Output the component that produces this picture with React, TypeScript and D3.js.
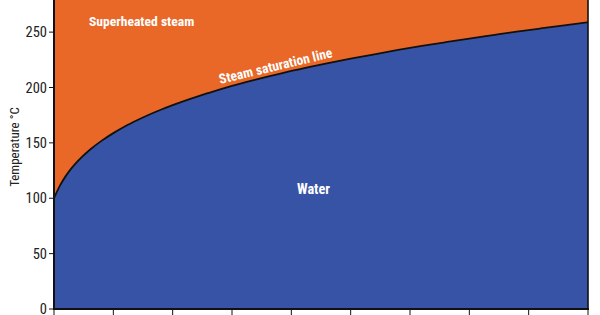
import React from "react";
import * as d3 from "d3";

// Saturation curve: gauge pressure (bar g) vs saturation temperature (°C)
const pressureBarG = [0, 0.5, 1, 1.5, 2, 3, 4, 5, 6, 7, 8, 9, 10, 11, 12, 13, 14, 15, 16, 17, 18, 19, 20, 21, 23, 25, 27, 29, 31, 33, 35, 37, 39, 41, 43, 45];
const satTempC = [100, 111.4, 120.2, 127.4, 133.5, 143.6, 151.8, 158.8, 165.0, 170.4, 175.4, 179.9, 184.1, 188.0, 191.6, 195.0, 198.3, 201.4, 204.3, 207.1, 209.8, 212.4, 214.9, 217.2, 221.8, 226.0, 230.0, 233.9, 237.5, 240.9, 244.2, 247.3, 250.4, 253.3, 256.1, 258.8];
const xTicks = [0, 5, 10, 15, 20, 25, 30, 35, 40, 45];
const yTicks = [0, 50, 100, 150, 200, 250];
const labels = { steam: "Superheated steam", water: "Water", line: "Steam saturation line", yTitle: "Temperature °C" };

const W = 600, H = 315;
const left = 54, right = 588, bottom = 309;
const ORANGE = "#E96727";
const BLUE = "#3753A5";
const FONT = "'Liberation Sans Narrow', 'Arial Narrow', 'Roboto Condensed', 'Liberation Sans', sans-serif";

export default function App() {
  const x = d3.scaleLinear().domain([0, 45]).range([left, right]);
  const y = d3.scaleLinear().domain([0, 279]).range([bottom, 0]);
  const pts: [number, number][] = pressureBarG.map((p, i) => [p, satTempC[i]]);
  const line = d3.line<[number, number]>().x(d => x(d[0])).y(d => y(d[1])).curve(d3.curveMonotoneX);
  const area = d3.area<[number, number]>().x(d => x(d[0])).y0(bottom).y1(d => y(d[1])).curve(d3.curveMonotoneX);

  const interp = (p: number) => d3.scaleLinear().domain(pressureBarG).range(satTempC)(p);
  const lp0 = 14.1, lp1 = 23.7;
  const lx0 = x(lp0), ly0 = y(interp(lp0)), lx1 = x(lp1), ly1 = y(interp(lp1));
  const ang = Math.atan2(ly1 - ly0, lx1 - lx0) * 180 / Math.PI;

  return (
    <div style={{ position: "absolute", left: 0, top: 0 }}>
      <svg width={W} height={H} style={{ display: "block" }}>
        <rect x={left} y={0} width={right - left} height={bottom} fill={ORANGE} />
        <path d={area(pts) || ""} fill={BLUE} />
        <path d={line(pts) || ""} fill="none" stroke="#111" strokeWidth={1.8} />
        <line x1={left} x2={left} y1={0} y2={bottom + 1} stroke="#111" strokeWidth={2} />
        <line x1={right} x2={right} y1={0} y2={bottom + 1} stroke="#111" strokeWidth={1.6} />
        <line x1={left - 1} x2={right + 1} y1={bottom} y2={bottom} stroke="#111" strokeWidth={2} />
        {yTicks.map(t => (
          <g key={"y" + t}>
            <line x1={left - 5} x2={left} y1={y(t)} y2={y(t)} stroke="#111" strokeWidth={1} />
            <text x={left - 7} y={y(t)} dy="0.36em" textAnchor="end" fontFamily={FONT} fontSize={14.5} fill="#222">{t}</text>
          </g>
        ))}
        {xTicks.map(t => (
          <line key={"x" + t} x1={x(t)} x2={x(t)} y1={bottom} y2={bottom + 6} stroke="#111" strokeWidth={1} />
        ))}
        <text transform={`translate(19,147) rotate(-90)`} textAnchor="middle" fontFamily={FONT} fontSize={13} fill="#222">{labels.yTitle}</text>
        <text x={89} y={26} fontFamily={FONT} fontWeight="bold" fontSize={13.6} fill="#fff">{labels.steam}</text>
        <text x={313.5} y={194} textAnchor="middle" fontFamily={FONT} fontWeight="bold" fontSize={14.2} fill="#fff">{labels.water}</text>
        <text transform={`translate(${lx0 - 1},${ly0 - 5}) rotate(${ang})`} fontFamily={FONT} fontWeight="bold" fontSize={13.6} fill="#fff">{labels.line}</text>
      </svg>
    </div>
  );
}
